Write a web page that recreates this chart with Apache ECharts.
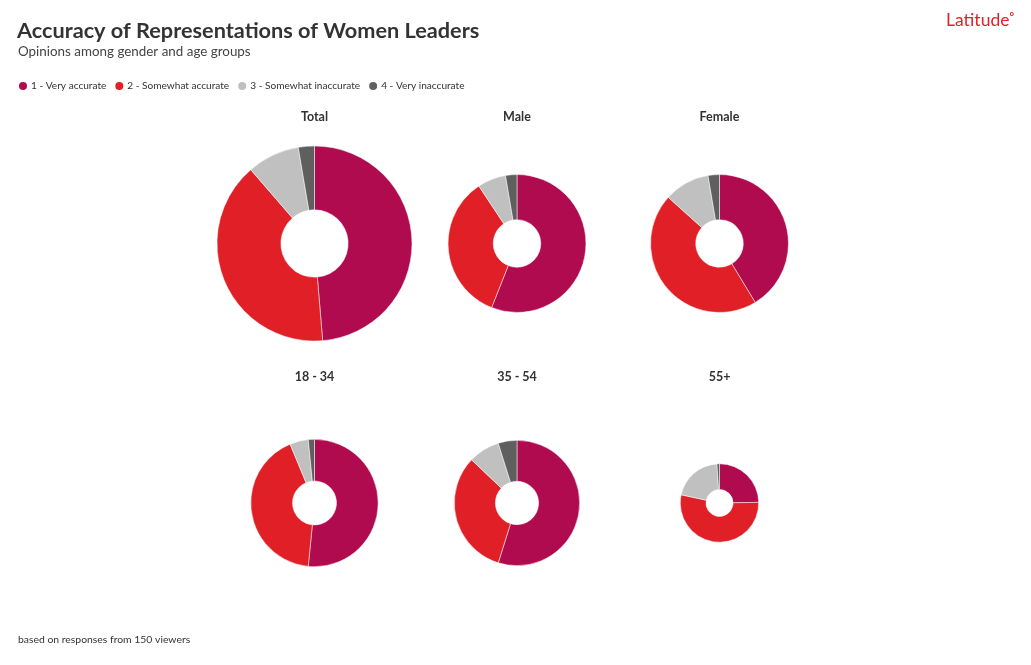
<!DOCTYPE html>
<html><head><meta charset="utf-8">
<script src="https://cdn.jsdelivr.net/npm/echarts@6/dist/echarts.min.js"></script>
<style>html,body{margin:0;padding:0;background:#fff}#c{width:1031px;height:665px}</style>
</head><body><div id="c"></div>
<script>
const categories = ['1 - Very accurate','2 - Somewhat accurate','3 - Somewhat inaccurate','4 - Very inaccurate'];
const groups = ['Total','Male','Female','18 - 34','35 - 54','55+'];
const total   = [73, 60, 13, 4];
const male    = [42, 26, 5, 2];
const female  = [31, 34, 8, 2];
const age1834 = [33, 27, 3, 1];
const age3554 = [34, 20, 5, 3];
const age55   = [6, 13, 5, 0.25];
const groupValues = [total, male, female, age1834, age3554, age55];
const colors = ['#b00b4f','#e02026','#c0c0c0','#5f5f5f'];

const FONT = 'Lato';
const centersX = [314.5, 517, 719.5];
const rowsY = [243.5, 503];
const titleY = [117, 377];
const scale = 97.5 / Math.sqrt(150);

const series = [];
const graphic = [];
groupValues.forEach((vals, gi) => {
  const col = gi % 3, row = Math.floor(gi / 3);
  const sum = vals.reduce((a, b) => a + b, 0);
  const r = scale * Math.sqrt(sum);
  series.push({
    type: 'pie', name: groups[gi],
    center: [centersX[col], rowsY[row]],
    radius: [r * 0.345, r],
    startAngle: 90, clockwise: true,
    label: {show: false}, labelLine: {show: false},
    silent: true, animation: false,
    itemStyle: {borderColor: '#fff', borderWidth: 0.5},
    data: vals.map((v, i) => ({name: categories[i], value: v, itemStyle: {color: colors[i]}}))
  });
  graphic.push({
    type: 'text', x: centersX[col], y: titleY[row],
    style: {text: groups[gi], font: 'bold 12.5px ' + FONT, fill: '#333', align: 'center', verticalAlign: 'middle'}
  });
});

graphic.push(
  {type: 'text', x: 17, y: 31, style: {text: 'Accuracy of Representations of Women Leaders', font: 'bold 21.7px ' + FONT, fill: '#333', verticalAlign: 'middle'}},
  {type: 'text', x: 18, y: 52, style: {text: 'Opinions among gender and age groups', font: '13.4px ' + FONT, fill: '#444', verticalAlign: 'middle'}},
  {type: 'text', x: 18, y: 640, style: {text: 'based on responses from 150 viewers', font: '10.4px ' + FONT, fill: '#333', verticalAlign: 'middle'}},
  {type: 'text', x: 1014, y: 20, style: {text: '{a|Latitude}{b|°}', align: 'right', verticalAlign: 'middle', fill: '#e02026',
     rich: {a: {font: '17.5px ' + FONT, fill: '#e02026'}, b: {font: 'bold 11px ' + FONT, fill: '#e02026', verticalAlign: 'top', padding: [0,0,6,0]}}}}
);

const chart = echarts.init(document.getElementById('c'), null, {renderer: 'canvas'});
chart.setOption({
  animation: false,
  legend: {
    left: 12, top: 75, icon: 'circle', itemWidth: 10, itemHeight: 10, itemGap: 7,
    selectedMode: false,
    textStyle: {fontFamily: FONT, fontSize: 10.1, color: '#333', padding: [0,0,0,-2]},
    data: categories
  },
  color: colors,
  series: series,
  graphic: graphic
});
</script></body></html>
